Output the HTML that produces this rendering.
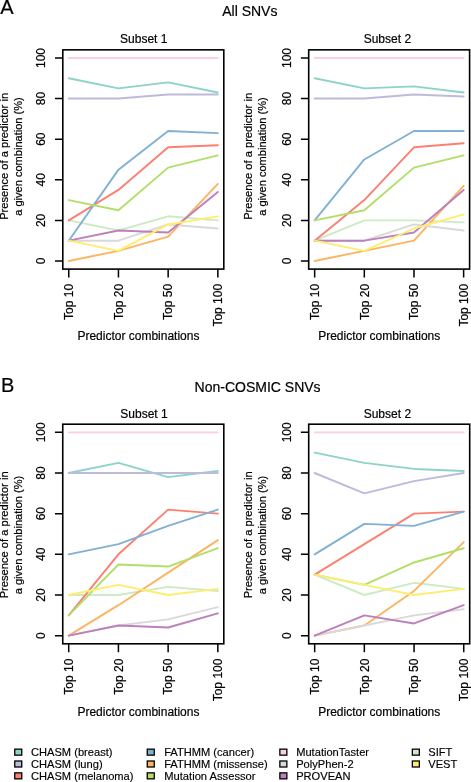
<!DOCTYPE html>
<html><head><meta charset="utf-8"><style>
html,body{margin:0;padding:0;background:#fff;}
svg{display:block;}
#wrap{width:471px;height:782px;overflow:hidden;will-change:transform;}
text{font-family:"Liberation Sans",sans-serif;fill:#000;stroke:#000;stroke-width:0.2px;}
.t12{font-size:12px;}
.t11{font-size:11px;}
.leg{font-size:10.6px;stroke-width:0.15px;}
.t14{font-size:14px;}
.t20{font-size:20px;}
polyline{fill:none;stroke-width:1.9;stroke-linejoin:round;stroke-linecap:round;}
.fr{fill:none;stroke:#000;stroke-width:1.6;}
.tk{fill:none;stroke:#000;stroke-width:1.5;}
</style></head><body>
<div id="wrap"><svg width="471" height="782" viewBox="0 0 471 782">
<rect width="471" height="782" fill="#fff"/>
<text x="0.2" y="14" class="t20">A</text>
<text x="222.2" y="15.6" class="t14">All SNVs</text>
<text x="120.1" y="43.4" class="t12">Subset 1</text>
<text x="363.7" y="43.4" class="t12">Subset 2</text>
<text x="1" y="391.8" class="t20">B</text>
<text x="194.6" y="392.2" class="t14">Non-COSMIC SNVs</text>
<text x="120.3" y="417.7" class="t12">Subset 1</text>
<text x="363.7" y="417.7" class="t12">Subset 2</text>
<polyline points="68.76,220.38 118.45,230.53 168.15,216.32 217.84,220.38" stroke="#CCEBC5"/>
<polyline points="68.76,78.27 118.45,88.42 168.15,82.33 217.84,92.48" stroke="#8DD3C7"/>
<polyline points="68.76,98.57 118.45,98.57 168.15,94.51 217.84,94.51" stroke="#BEBADA"/>
<polyline points="68.76,220.38 118.45,189.93 168.15,147.29 217.84,145.26" stroke="#FB8072"/>
<polyline points="68.76,240.68 118.45,169.63 168.15,131.05 217.84,133.08" stroke="#80B1D3"/>
<polyline points="68.76,260.98 118.45,250.83 168.15,236.62 217.84,183.84" stroke="#FDB462"/>
<polyline points="68.76,200.08 118.45,210.23 168.15,167.6 217.84,155.41" stroke="#B3DE69"/>
<polyline points="68.76,57.97 118.45,57.97 168.15,57.97 217.84,57.97" stroke="#FCCDE5"/>
<polyline points="68.76,240.68 118.45,240.68 168.15,224.44 217.84,228.5" stroke="#D9D9D9"/>
<polyline points="68.76,240.68 118.45,230.53 168.15,232.56 217.84,191.96" stroke="#BC80BD"/>
<polyline points="68.76,240.68 118.45,250.83 168.15,224.44 217.84,216.32" stroke="#FFED6F"/>
<rect x="62.8" y="49.85" width="161" height="219.25" class="fr"/>
<path d="M55,260.98H62.8M55,220.38H62.8M55,179.78H62.8M55,139.17H62.8M55,98.57H62.8M55,57.97H62.8M68.76,269.1V277.5M118.45,269.1V277.5M168.15,269.1V277.5M217.84,269.1V277.5" class="tk"/>
<text transform="translate(45.3,260.98) rotate(-90)" class="t12" text-anchor="middle">0</text>
<text transform="translate(45.3,220.38) rotate(-90)" class="t12" text-anchor="middle">20</text>
<text transform="translate(45.3,179.78) rotate(-90)" class="t12" text-anchor="middle">40</text>
<text transform="translate(45.3,139.17) rotate(-90)" class="t12" text-anchor="middle">60</text>
<text transform="translate(45.3,98.57) rotate(-90)" class="t12" text-anchor="middle">80</text>
<text transform="translate(45.3,57.97) rotate(-90)" class="t12" text-anchor="middle">100</text>
<text transform="translate(73.06,283.9) rotate(-90)" class="t12" text-anchor="end">Top 10</text>
<text transform="translate(122.75,283.9) rotate(-90)" class="t12" text-anchor="end">Top 20</text>
<text transform="translate(172.45,283.9) rotate(-90)" class="t12" text-anchor="end">Top 50</text>
<text transform="translate(222.14,283.9) rotate(-90)" class="t12" text-anchor="end">Top 100</text>
<polyline points="314.66,240.68 364.32,220.38 413.98,220.38 463.64,222.41" stroke="#CCEBC5"/>
<polyline points="314.66,78.27 364.32,88.42 413.98,86.39 463.64,92.48" stroke="#8DD3C7"/>
<polyline points="314.66,98.57 364.32,98.57 413.98,94.51 463.64,96.54" stroke="#BEBADA"/>
<polyline points="314.66,240.68 364.32,200.08 413.98,147.29 463.64,143.23" stroke="#FB8072"/>
<polyline points="314.66,220.38 364.32,159.47 413.98,131.05 463.64,131.05" stroke="#80B1D3"/>
<polyline points="314.66,260.98 364.32,250.83 413.98,240.68 463.64,185.87" stroke="#FDB462"/>
<polyline points="314.66,220.38 364.32,210.23 413.98,167.6 463.64,155.41" stroke="#B3DE69"/>
<polyline points="314.66,57.97 364.32,57.97 413.98,57.97 463.64,57.97" stroke="#FCCDE5"/>
<polyline points="314.66,240.68 364.32,240.68 413.98,224.44 463.64,230.53" stroke="#D9D9D9"/>
<polyline points="314.66,240.68 364.32,240.68 413.98,232.56 463.64,189.93" stroke="#BC80BD"/>
<polyline points="314.66,240.68 364.32,250.83 413.98,228.5 463.64,214.29" stroke="#FFED6F"/>
<rect x="308.7" y="49.85" width="160.9" height="219.25" class="fr"/>
<path d="M300.9,260.98H308.7M300.9,220.38H308.7M300.9,179.78H308.7M300.9,139.17H308.7M300.9,98.57H308.7M300.9,57.97H308.7M314.66,269.1V277.5M364.32,269.1V277.5M413.98,269.1V277.5M463.64,269.1V277.5" class="tk"/>
<text transform="translate(291.2,260.98) rotate(-90)" class="t12" text-anchor="middle">0</text>
<text transform="translate(291.2,220.38) rotate(-90)" class="t12" text-anchor="middle">20</text>
<text transform="translate(291.2,179.78) rotate(-90)" class="t12" text-anchor="middle">40</text>
<text transform="translate(291.2,139.17) rotate(-90)" class="t12" text-anchor="middle">60</text>
<text transform="translate(291.2,98.57) rotate(-90)" class="t12" text-anchor="middle">80</text>
<text transform="translate(291.2,57.97) rotate(-90)" class="t12" text-anchor="middle">100</text>
<text transform="translate(318.96,283.9) rotate(-90)" class="t12" text-anchor="end">Top 10</text>
<text transform="translate(368.62,283.9) rotate(-90)" class="t12" text-anchor="end">Top 20</text>
<text transform="translate(418.28,283.9) rotate(-90)" class="t12" text-anchor="end">Top 50</text>
<text transform="translate(467.94,283.9) rotate(-90)" class="t12" text-anchor="end">Top 100</text>
<polyline points="68.71,595 118.42,595 168.13,586.87 217.84,590.93" stroke="#CCEBC5"/>
<polyline points="68.71,473 118.42,462.83 168.13,477.07 217.84,470.97" stroke="#8DD3C7"/>
<polyline points="68.71,473 118.42,473 168.13,473 217.84,473" stroke="#BEBADA"/>
<polyline points="68.71,615.33 118.42,554.33 168.13,509.6 217.84,513.67" stroke="#FB8072"/>
<polyline points="68.71,554.33 118.42,544.17 168.13,525.87 217.84,509.6" stroke="#80B1D3"/>
<polyline points="68.71,635.67 118.42,605.17 168.13,572.63 217.84,540.1" stroke="#FDB462"/>
<polyline points="68.71,615.33 118.42,564.5 168.13,566.53 217.84,548.23" stroke="#B3DE69"/>
<polyline points="68.71,432.33 118.42,432.33 168.13,432.33 217.84,432.33" stroke="#FCCDE5"/>
<polyline points="68.71,635.67 118.42,625.5 168.13,619.4 217.84,607.2" stroke="#D9D9D9"/>
<polyline points="68.71,635.67 118.42,625.5 168.13,627.53 217.84,613.3" stroke="#BC80BD"/>
<polyline points="68.71,595 118.42,584.83 168.13,595 217.84,588.9" stroke="#FFED6F"/>
<rect x="62.75" y="424.2" width="161.05" height="219.6" class="fr"/>
<path d="M54.95,635.67H62.75M54.95,595H62.75M54.95,554.33H62.75M54.95,513.67H62.75M54.95,473H62.75M54.95,432.33H62.75M68.71,643.8V652.2M118.42,643.8V652.2M168.13,643.8V652.2M217.84,643.8V652.2" class="tk"/>
<text transform="translate(45.25,635.67) rotate(-90)" class="t12" text-anchor="middle">0</text>
<text transform="translate(45.25,595) rotate(-90)" class="t12" text-anchor="middle">20</text>
<text transform="translate(45.25,554.33) rotate(-90)" class="t12" text-anchor="middle">40</text>
<text transform="translate(45.25,513.67) rotate(-90)" class="t12" text-anchor="middle">60</text>
<text transform="translate(45.25,473) rotate(-90)" class="t12" text-anchor="middle">80</text>
<text transform="translate(45.25,432.33) rotate(-90)" class="t12" text-anchor="middle">100</text>
<text transform="translate(73.01,658.6) rotate(-90)" class="t12" text-anchor="end">Top 10</text>
<text transform="translate(122.72,658.6) rotate(-90)" class="t12" text-anchor="end">Top 20</text>
<text transform="translate(172.43,658.6) rotate(-90)" class="t12" text-anchor="end">Top 50</text>
<text transform="translate(222.14,658.6) rotate(-90)" class="t12" text-anchor="end">Top 100</text>
<polyline points="314.66,574.67 364.35,595 414.05,582.8 463.74,588.9" stroke="#CCEBC5"/>
<polyline points="314.66,452.67 364.35,462.83 414.05,468.93 463.74,470.97" stroke="#8DD3C7"/>
<polyline points="314.66,473 364.35,493.33 414.05,481.13 463.74,473" stroke="#BEBADA"/>
<polyline points="314.66,574.67 364.35,544.17 414.05,513.67 463.74,511.63" stroke="#FB8072"/>
<polyline points="314.66,554.33 364.35,523.83 414.05,525.87 463.74,511.63" stroke="#80B1D3"/>
<polyline points="314.66,635.67 364.35,625.5 414.05,590.93 463.74,542.13" stroke="#FDB462"/>
<polyline points="314.66,574.67 364.35,584.83 414.05,562.47 463.74,548.23" stroke="#B3DE69"/>
<polyline points="314.66,432.33 364.35,432.33 414.05,432.33 463.74,432.33" stroke="#FCCDE5"/>
<polyline points="314.66,635.67 364.35,625.5 414.05,615.33 463.74,609.23" stroke="#D9D9D9"/>
<polyline points="314.66,635.67 364.35,615.33 414.05,623.47 463.74,605.17" stroke="#BC80BD"/>
<polyline points="314.66,574.67 364.35,584.83 414.05,595 463.74,588.9" stroke="#FFED6F"/>
<rect x="308.7" y="424.2" width="161" height="219.6" class="fr"/>
<path d="M300.9,635.67H308.7M300.9,595H308.7M300.9,554.33H308.7M300.9,513.67H308.7M300.9,473H308.7M300.9,432.33H308.7M314.66,643.8V652.2M364.35,643.8V652.2M414.05,643.8V652.2M463.74,643.8V652.2" class="tk"/>
<text transform="translate(291.2,635.67) rotate(-90)" class="t12" text-anchor="middle">0</text>
<text transform="translate(291.2,595) rotate(-90)" class="t12" text-anchor="middle">20</text>
<text transform="translate(291.2,554.33) rotate(-90)" class="t12" text-anchor="middle">40</text>
<text transform="translate(291.2,513.67) rotate(-90)" class="t12" text-anchor="middle">60</text>
<text transform="translate(291.2,473) rotate(-90)" class="t12" text-anchor="middle">80</text>
<text transform="translate(291.2,432.33) rotate(-90)" class="t12" text-anchor="middle">100</text>
<text transform="translate(318.96,658.6) rotate(-90)" class="t12" text-anchor="end">Top 10</text>
<text transform="translate(368.65,658.6) rotate(-90)" class="t12" text-anchor="end">Top 20</text>
<text transform="translate(418.35,658.6) rotate(-90)" class="t12" text-anchor="end">Top 50</text>
<text transform="translate(468.04,658.6) rotate(-90)" class="t12" text-anchor="end">Top 100</text>
<text transform="translate(8.0,156.4) rotate(-90)" class="t11" style="font-size:11.15px" text-anchor="middle">Presence of a predictor in</text>
<text transform="translate(21.7,156.5) rotate(-90)" class="t11" style="font-size:11.05px" text-anchor="middle">a given combination (%)</text>
<text transform="translate(252.1,156.4) rotate(-90)" class="t11" style="font-size:11.15px" text-anchor="middle">Presence of a predictor in</text>
<text transform="translate(265.8,156.5) rotate(-90)" class="t11" style="font-size:11.05px" text-anchor="middle">a given combination (%)</text>
<text transform="translate(8.0,534.9) rotate(-90)" class="t11" style="font-size:11.15px" text-anchor="middle">Presence of a predictor in</text>
<text transform="translate(21.7,535.0) rotate(-90)" class="t11" style="font-size:11.05px" text-anchor="middle">a given combination (%)</text>
<text transform="translate(252.1,534.9) rotate(-90)" class="t11" style="font-size:11.15px" text-anchor="middle">Presence of a predictor in</text>
<text transform="translate(265.8,535.0) rotate(-90)" class="t11" style="font-size:11.05px" text-anchor="middle">a given combination (%)</text>
<text x="77.4" y="340.1" class="t12">Predictor combinations</text>
<text x="318.2" y="340.1" class="t12">Predictor combinations</text>
<text x="77.4" y="715.5" class="t12">Predictor combinations</text>
<text x="318.2" y="715.5" class="t12">Predictor combinations</text>
<rect x="14.75" y="749.15" width="7" height="6" fill="#8DD3C7" stroke="#000" stroke-width="1.3"/>
<text x="31.0" y="755.5" class="leg" textLength="81.49" lengthAdjust="spacingAndGlyphs">CHASM (breast)</text>
<rect x="14.75" y="761" width="7" height="6" fill="#BEBADA" stroke="#000" stroke-width="1.3"/>
<text x="31.0" y="767.5" class="leg" textLength="71.61" lengthAdjust="spacingAndGlyphs">CHASM (lung)</text>
<rect x="14.75" y="772.85" width="7" height="6" fill="#FB8072" stroke="#000" stroke-width="1.3"/>
<text x="31.0" y="779.5" class="leg" textLength="102.48" lengthAdjust="spacingAndGlyphs">CHASM (melanoma)</text>
<rect x="147.25" y="749.15" width="7" height="6" fill="#80B1D3" stroke="#000" stroke-width="1.3"/>
<text x="164.2" y="755.5" class="leg" textLength="89.91" lengthAdjust="spacingAndGlyphs">FATHMM (cancer)</text>
<rect x="147.25" y="761" width="7" height="6" fill="#FDB462" stroke="#000" stroke-width="1.3"/>
<text x="164.2" y="767.5" class="leg" textLength="103.48" lengthAdjust="spacingAndGlyphs">FATHMM (missense)</text>
<rect x="147.25" y="772.85" width="7" height="6" fill="#B3DE69" stroke="#000" stroke-width="1.3"/>
<text x="164.2" y="779.5" class="leg" textLength="91.38" lengthAdjust="spacingAndGlyphs">Mutation Assessor</text>
<rect x="279.85" y="749.15" width="7" height="6" fill="#FCCDE5" stroke="#000" stroke-width="1.3"/>
<text x="296.2" y="755.5" class="leg" textLength="72.86" lengthAdjust="spacingAndGlyphs">MutationTaster</text>
<rect x="279.85" y="761" width="7" height="6" fill="#D9D9D9" stroke="#000" stroke-width="1.3"/>
<text x="296.2" y="767.5" class="leg" textLength="57.44" lengthAdjust="spacingAndGlyphs">PolyPhen-2</text>
<rect x="279.85" y="772.85" width="7" height="6" fill="#BC80BD" stroke="#000" stroke-width="1.3"/>
<text x="296.2" y="779.5" class="leg" textLength="54.33" lengthAdjust="spacingAndGlyphs">PROVEAN</text>
<rect x="412.35" y="749.15" width="7" height="6" fill="#CCEBC5" stroke="#000" stroke-width="1.3"/>
<text x="428.3" y="755.5" class="leg" textLength="24.07" lengthAdjust="spacingAndGlyphs">SIFT</text>
<rect x="412.35" y="761" width="7" height="6" fill="#FFED6F" stroke="#000" stroke-width="1.3"/>
<text x="428.3" y="767.5" class="leg" textLength="29.02" lengthAdjust="spacingAndGlyphs">VEST</text>
</svg></div>
</body></html>
